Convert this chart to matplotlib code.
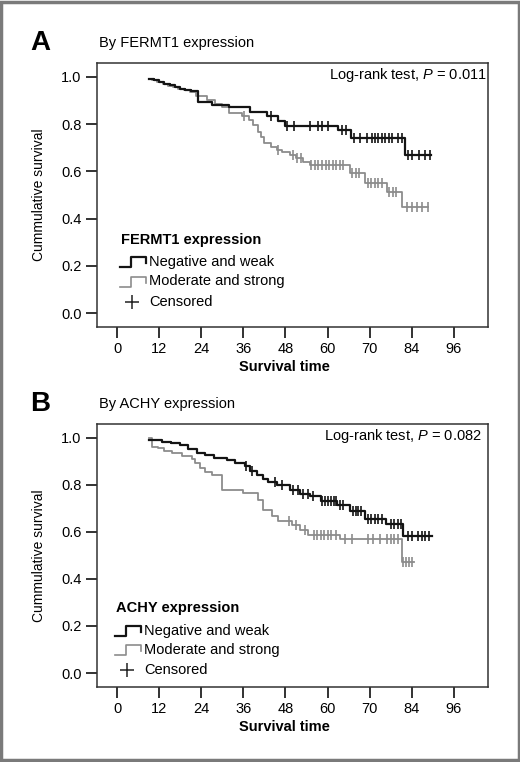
import numpy as np
import matplotlib
matplotlib.use("Agg")
import matplotlib.pyplot as plt
from matplotlib.patches import Rectangle

plt.rcParams['font.family'] = ['Liberation Sans', 'DejaVu Sans']
plt.rcParams['mathtext.fontset'] = 'custom'
plt.rcParams['mathtext.rm'] = 'Liberation Sans'
plt.rcParams['mathtext.it'] = 'Liberation Sans:italic'

# x tick labels as printed (note "70" where 72 is expected)
xticks = [0, 12, 24, 36, 48, 60, 72, 84, 96]
xticklabels = ["0", "12", "24", "36", "48", "60", "70", "84", "96"]
yticks = [0.0, 0.2, 0.4, 0.6, 0.8, 1.0]

# panel A - FERMT1
a_neg_t = [9, 10.5, 12, 13.5, 15, 16.5, 18, 19.5, 21, 23.2, 27, 32, 38, 42.7, 46, 48, 63, 66.6, 82, 89.5]
a_neg_s = [0.99, 0.985, 0.978, 0.97, 0.965, 0.958, 0.95, 0.945, 0.938, 0.895, 0.882, 0.870, 0.852,
           0.832, 0.814, 0.793, 0.775, 0.742, 0.669, 0.669]
a_neg_cens = [44, 48.5, 50.5, 55, 57.4, 58.3, 60.2, 64.2, 65.2, 67.4, 69.3, 71.2, 72.6, 73.6, 74.5,
              75.5, 76.4, 77.4, 78.3, 80.2, 81.2, 83, 84, 85.9, 87.8, 89.2]
a_pos_t = [9, 10, 11.5, 13, 14.5, 16, 17.5, 19, 20.8, 22.5, 25.5, 28, 30, 32, 35.5, 37.5, 38.8, 40.3,
           41, 42, 44, 45.5, 47, 49.3, 51, 53, 55, 66.4, 70.7, 76.8, 81.2, 88.7]
a_pos_s = [0.99, 0.985, 0.978, 0.97, 0.962, 0.955, 0.948, 0.942, 0.935, 0.92, 0.903, 0.885, 0.872,
           0.845, 0.835, 0.815, 0.795, 0.767, 0.745, 0.72, 0.705, 0.69, 0.68, 0.668, 0.655, 0.64,
           0.625, 0.592, 0.549, 0.514, 0.449, 0.449]
a_pos_cens = [36.2, 46, 50, 51.2, 52.3, 55.4, 56.4, 57.4, 58.5, 59.5, 60.5, 61.5, 62.5, 63.5, 64.5,
              67, 68, 69, 71.5, 72.5, 73.5, 74.5, 75.5, 77.5, 78.5, 79.5, 82.5, 84, 85.5, 87, 88.5]

# panel B - ACHY
b_neg_t = [9, 12.7, 15.5, 18, 20.3, 22.7, 25, 27.5, 31.3, 33.5, 36.5, 38, 39.8, 41.5, 43, 45.5, 49.3,
           52.2, 55, 58, 62.6, 66.5, 70.7, 76.7, 81.6, 89.7]
b_neg_s = [0.99, 0.983, 0.976, 0.969, 0.951, 0.934, 0.925, 0.913, 0.903, 0.892, 0.878, 0.860, 0.842,
           0.825, 0.812, 0.80, 0.779, 0.762, 0.751, 0.733, 0.715, 0.688, 0.655, 0.633, 0.582, 0.582]
b_neg_cens = [36.8, 38.5, 45, 47, 50, 51.5, 53, 54.5, 55.8, 58.5, 59.3, 60.1, 61, 61.8, 62.5, 63.5,
              64.3, 67.2, 68, 68.8, 69.6, 71.5, 72.5, 73.5, 74.5, 75.5, 78, 79, 80, 81, 83, 84,
              85.8, 86.8, 87.8, 88.8]
b_pos_t = [9, 9.9, 11.8, 13.5, 15.6, 18.4, 21.3, 22.2, 23.7, 25.1, 27, 29.8, 36, 40.3, 41.7, 44.1,
           46, 49.8, 52.2, 54.5, 63.6, 81.2, 84.7]
b_pos_s = [1.0, 0.962, 0.955, 0.945, 0.934, 0.923, 0.909, 0.892, 0.871, 0.856, 0.842, 0.779, 0.765,
           0.736, 0.694, 0.666, 0.645, 0.627, 0.609, 0.588, 0.570, 0.470, 0.470]
b_pos_cens = [49, 51, 53.5, 56, 57, 58, 59, 60, 61, 62.5, 65, 67, 71.5, 73, 75, 76.8, 78, 79, 80,
              81.6, 82.4, 83.2, 84]

BLACK = "#141414"
GREY = "#8c8c8c"
FS = 10.5


def step_val(t, s, x):
    i = np.searchsorted(t, x, side='right') - 1
    return np.asarray(s)[i]


def draw_curve(ax, t, s, cens, col, lw):
    z = 3 if col == BLACK else 2
    ax.step(t, s, where='post', color=col, lw=lw, zorder=z)
    cy = step_val(np.asarray(t), s, np.asarray(cens))
    ax.plot(cens, cy, ls='none', marker='|', ms=6.5, mew=1.2, color=col, zorder=z)


def panel(rect, letter, title, ptxt, px_right, legtitle, data, leg_px, bottom_px, top_px):
    ax = fig.add_axes(rect)
    for t, s, c, col, lw in data:
        draw_curve(ax, t, s, c, col, lw)
    ax.set_xlim(-5.7, 105.7)
    ax.set_ylim(-0.058, 1.058)
    ax.set_xticks(xticks)
    ax.set_xticklabels(xticklabels)
    ax.set_yticks(yticks)
    ax.set_yticklabels(["%.1f" % v for v in yticks])
    ax.tick_params(direction='out', length=8, width=1.3, labelsize=FS, pad=3, color="#222222")
    for sp in ax.spines.values():
        sp.set_linewidth(1.1)
        sp.set_color("#333333")
    ax.set_xlabel("Survival time", fontsize=FS, fontweight='bold', labelpad=1)
    ax.xaxis.set_label_coords((284 - 97) / 391, -0.125)
    ax.set_ylabel("Cummulative survival", fontsize=10)
    ax.yaxis.set_label_coords(-0.13, 0.5)
    ax.text(px_right, 0.955, ptxt, transform=ax.transAxes, ha='right', va='center', fontsize=FS)

    # panel letter and heading
    yl = 1 - top_px / 762
    fig.text(30 / 520, yl, letter, fontsize=20, fontweight='bold', va='center', ha='left')
    fig.text(99 / 520, yl, title, fontsize=FS, va='center', ha='left')

    # legend drawn by hand to match the SPSS step icons
    x0, ytitle, y1, y2, y3 = leg_px
    ah = rect[3] * 762

    def fx(px):
        return (px - 97) / 391

    def fy(py):
        return (bottom_px - py) / ah

    ax.text(fx(x0), fy(ytitle), legtitle, transform=ax.transAxes, fontsize=FS,
            fontweight='bold', va='center', ha='left')
    for yy, col, lab in [(y1, BLACK, "Negative and weak"), (y2, GREY, "Moderate and strong")]:
        xs = [x0 - 1, x0 + 10, x0 + 10, x0 + 25, x0 + 25]
        ys = [yy + 5, yy + 5, yy - 5, yy - 5, yy + 1]
        ax.plot([fx(v) for v in xs], [fy(v) for v in ys], transform=ax.transAxes,
                color=col, lw=1.6 if col == BLACK else 1.2, clip_on=False)
        ax.text(fx(x0 + 28), fy(yy), lab, transform=ax.transAxes, fontsize=FS,
                va='center', ha='left')
    ax.plot([fx(x0 + 11)], [fy(y3)], marker='+', ms=10, mew=1.1, color="#222222",
            transform=ax.transAxes)
    ax.text(fx(x0 + 28), fy(y3), "Censored", transform=ax.transAxes, fontsize=FS,
            va='center', ha='left')
    return ax


fig = plt.figure(figsize=(5.2, 7.62), dpi=100)

panel([97 / 520, 1 - 327 / 762, 391 / 520, 264 / 762], "A", "By FERMT1 expression",
      "Log-rank test, $P$ = 0.011", 0.998, "FERMT1 expression",
      [(a_pos_t, a_pos_s, a_pos_cens, GREY, 1.3), (a_neg_t, a_neg_s, a_neg_cens, BLACK, 1.6)],
      (121, 240, 262, 281.5, 301.5), 327, 43)

panel([97 / 520, 1 - 686.7 / 762, 391 / 520, 262.7 / 762], "B", "By ACHY expression",
      "Log-rank test, $P$ = 0.082", 0.984, "ACHY expression",
      [(b_pos_t, b_pos_s, b_pos_cens, GREY, 1.3), (b_neg_t, b_neg_s, b_neg_cens, BLACK, 1.6)],
      (116, 608, 630.5, 650, 669.5), 686.7, 404)

# grey frame around the whole figure
fig.patches.append(Rectangle((0.002, 0.002), 0.996, 0.996, transform=fig.transFigure,
                             fill=False, lw=2.5, edgecolor="#7a7a7a"))

fig.savefig("out.png", dpi=100)
